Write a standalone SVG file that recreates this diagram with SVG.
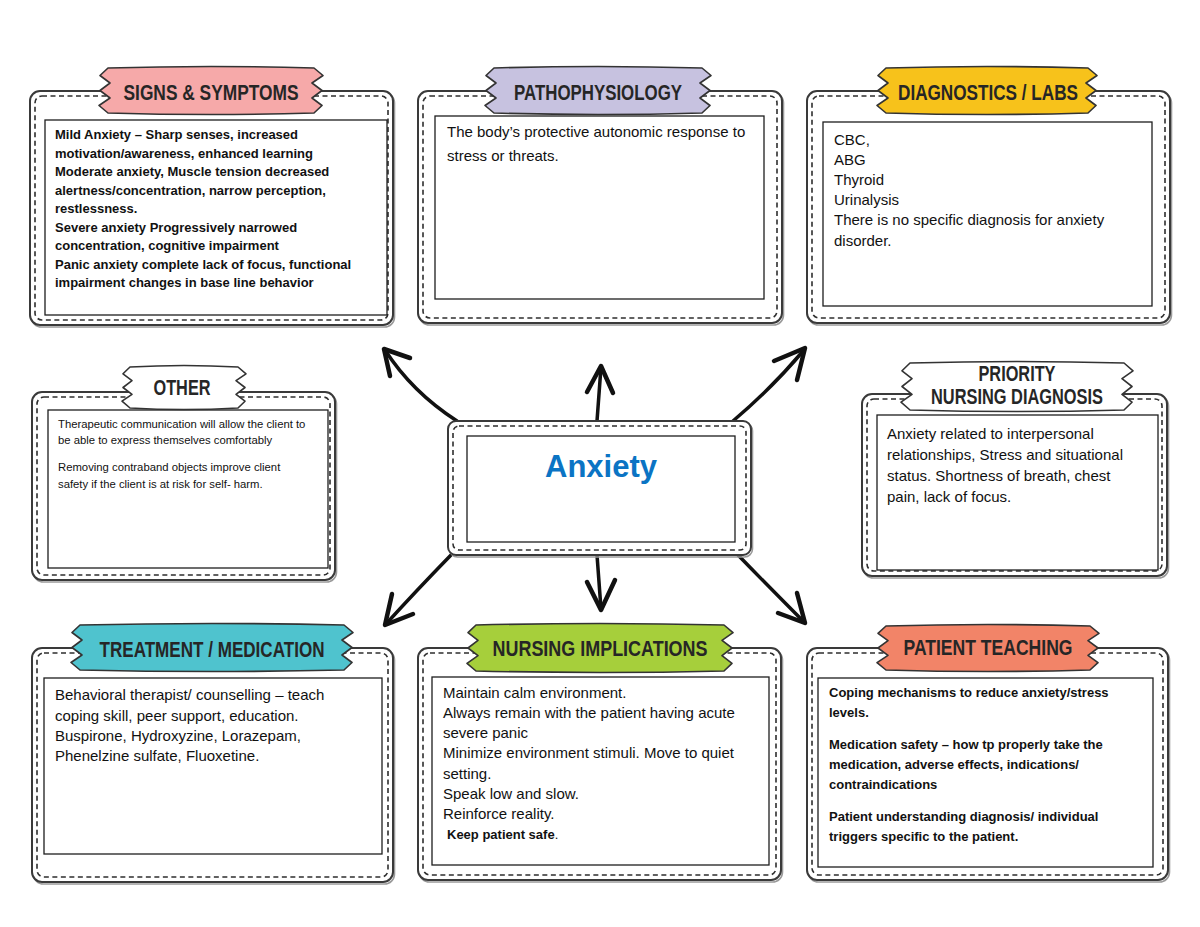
<svg xmlns="http://www.w3.org/2000/svg" width="1200" height="927" viewBox="0 0 1200 927">
<style>
.bg{fill:#fff}
.frame{fill:#fff;stroke:#3a3a3a;stroke-width:2}
.shadow{fill:none;stroke:#9a9a9a;stroke-width:1.6}
.dash{fill:none;stroke:#2e2e2e;stroke-width:1.6;stroke-dasharray:5 3.5}
.inner{fill:#fff;stroke:#1e1e1e;stroke-width:1.3}
.banner{stroke:#333;stroke-width:1.6;stroke-linejoin:round}
.btxt{font-family:"Liberation Sans",Arial,sans-serif;font-weight:bold;font-size:22px;fill:#262626;text-anchor:middle}
.body{font-family:"Liberation Sans",Arial,sans-serif;font-size:15px;fill:#111}
.bold{font-weight:bold;font-size:13px}
.small{font-size:11.3px}
.arrow{fill:none;stroke:#111;stroke-width:3.5;stroke-linecap:round;stroke-linejoin:round}
.head{fill:none;stroke:#111;stroke-width:4.5;stroke-linecap:round;stroke-linejoin:round}
.title{font-family:"Liberation Sans",Arial,sans-serif;font-weight:bold;font-size:31px;fill:#0b74c4;text-anchor:middle}
</style>
<rect class="bg" x="0" y="0" width="1200" height="927"/>

<g id="connectors">
  <path class="arrow" d="M457,421 Q412,392 385,350"/>
  <polyline class="head" points="410,358 384,349 390,376"/>
  <path class="arrow" d="M597,421 L601,367"/>
  <polyline class="head" points="587,392 601,366 613,393"/>
  <path class="arrow" d="M733,421 Q772,388 804,350"/>
  <polyline class="head" points="774,361 805,348 797,380"/>
  <path class="arrow" d="M451,555 Q415,592 386,624"/>
  <polyline class="head" points="392,594 385,625 413,614"/>
  <path class="arrow" d="M597,555 L601,609"/>
  <polyline class="head" points="587,582 601,610 615,580"/>
  <path class="arrow" d="M738,555 Q772,590 804,622"/>
  <polyline class="head" points="797,593 805,623 778,613"/>
</g>

<g id="signs-symptoms">
  <rect class="shadow" x="31.5" y="93" width="363" height="234" rx="10"/>
  <rect class="frame" x="30" y="91" width="363" height="234" rx="10"/>
  <rect class="dash" x="35" y="96" width="353" height="224" rx="7"/>
  <rect class="inner" x="45" y="120" width="342" height="195"/>
  <path class="banner" fill="#f6a9a9" d="M108,68 q103,-3 206,0 l9,7.5 l-11,7.5 l10,7.5 l-10,7.5 l10,7.5 l-8,7.5 q-103,3 -206,0 l-9,-7.5 l11,-7.5 l-10,-7.5 l10,-7.5 l-10,-7.5 l8,-7.5 z"/>
  <text class="btxt" x="211" y="100" textLength="175" lengthAdjust="spacingAndGlyphs">SIGNS &amp; SYMPTOMS</text>
  <text class="body bold">
    <tspan x="55" y="139">Mild Anxiety – Sharp senses, increased</tspan>
    <tspan x="55" y="158">motivation/awareness, enhanced learning</tspan>
    <tspan x="55" y="176">Moderate anxiety, Muscle tension decreased</tspan>
    <tspan x="55" y="195">alertness/concentration, narrow perception,</tspan>
    <tspan x="55" y="213">restlessness.</tspan>
    <tspan x="55" y="232">Severe anxiety Progressively narrowed</tspan>
    <tspan x="55" y="250">concentration, cognitive impairment</tspan>
    <tspan x="55" y="269">Panic anxiety complete lack of focus, functional</tspan>
    <tspan x="55" y="287">impairment changes in base line behavior</tspan>
  </text>
</g>

<g id="pathophysiology">
  <rect class="shadow" x="419.5" y="93" width="364" height="232" rx="10"/>
  <rect class="frame" x="418" y="91" width="364" height="232" rx="10"/>
  <rect class="dash" x="423" y="96" width="354" height="222" rx="7"/>
  <rect class="inner" x="435" y="116" width="329" height="183"/>
  <path class="banner" fill="#c7c2e0" d="M494,68 q104,-3 208,0 l9,7.5 l-11,7.5 l10,7.5 l-10,7.5 l10,7.5 l-8,7.5 q-104,3 -208,0 l-9,-7.5 l11,-7.5 l-10,-7.5 l10,-7.5 l-10,-7.5 l8,-7.5 z"/>
  <text class="btxt" x="598" y="100" textLength="168" lengthAdjust="spacingAndGlyphs">PATHOPHYSIOLOGY</text>
  <text class="body">
    <tspan x="447" y="137">The body’s protective autonomic response to</tspan>
    <tspan x="447" y="161">stress or threats.</tspan>
  </text>
</g>

<g id="diagnostics-labs">
  <rect class="shadow" x="808.5" y="93" width="363" height="232" rx="10"/>
  <rect class="frame" x="807" y="91" width="363" height="232" rx="10"/>
  <rect class="dash" x="812" y="96" width="353" height="222" rx="7"/>
  <rect class="inner" x="823" y="122" width="329" height="184"/>
  <path class="banner" fill="#f7c21b" d="M886,68 q101,-3 202,0 l9,7.5 l-11,7.5 l10,7.5 l-10,7.5 l10,7.5 l-8,7.5 q-101,3 -202,0 l-9,-7.5 l11,-7.5 l-10,-7.5 l10,-7.5 l-10,-7.5 l8,-7.5 z"/>
  <text class="btxt" x="988" y="100" textLength="180" lengthAdjust="spacingAndGlyphs">DIAGNOSTICS / LABS</text>
  <text class="body">
    <tspan x="834" y="145">CBC,</tspan>
    <tspan x="834" y="165">ABG</tspan>
    <tspan x="834" y="185">Thyroid</tspan>
    <tspan x="834" y="205">Urinalysis</tspan>
    <tspan x="834" y="225">There is no specific diagnosis for anxiety</tspan>
    <tspan x="834" y="246">disorder.</tspan>
  </text>
</g>

<g id="other">
  <rect class="shadow" x="33.5" y="394" width="303" height="188" rx="10"/>
  <rect class="frame" x="32" y="392" width="303" height="188" rx="10"/>
  <rect class="dash" x="37" y="397" width="293" height="178" rx="7"/>
  <rect class="inner" x="48" y="410" width="280" height="158"/>
  <path class="banner" fill="#fff" d="M130,367 q54,-3 108,0 l8,6.8 l-10,6.8 l9,6.9 l-9,6.8 l9,6.9 l-7,6.8 q-54,3 -108,0 l-8,-6.8 l10,-6.8 l-9,-6.9 l9,-6.8 l-9,-6.9 l7,-6.8 z"/>
  <text class="btxt" x="182" y="395" textLength="57" lengthAdjust="spacingAndGlyphs">OTHER</text>
  <text class="body small">
    <tspan x="58" y="428">Therapeutic communication will allow the client to</tspan>
    <tspan x="58" y="444">be able to express themselves comfortably</tspan>
    <tspan x="58" y="471">Removing contraband objects improve client</tspan>
    <tspan x="58" y="488">safety if the client is at risk for self- harm.</tspan>
  </text>
</g>

<g id="anxiety">
  <rect class="shadow" x="449.5" y="423" width="303" height="134" rx="8"/>
  <rect class="frame" x="448" y="421" width="303" height="134" rx="8"/>
  <rect class="dash" x="453" y="426" width="293" height="124" rx="6"/>
  <rect class="inner" x="467" y="436" width="268" height="106"/>
  <text class="title" x="601" y="477">Anxiety</text>
</g>

<g id="priority-nursing-diagnosis">
  <rect class="shadow" x="863.5" y="396" width="305" height="182" rx="10"/>
  <rect class="frame" x="862" y="394" width="305" height="182" rx="10"/>
  <rect class="dash" x="867" y="399" width="295" height="172" rx="7"/>
  <rect class="inner" x="877" y="415" width="281" height="155"/>
  <path class="banner" fill="#fff" d="M910,363 q107,-3 214,0 l9,7.8 l-11,7.9 l10,7.8 l-10,7.9 l10,7.8 l-8,7.8 q-107,3 -214,0 l-9,-7.8 l11,-7.8 l-10,-7.9 l10,-7.8 l-10,-7.9 l8,-7.8 z"/>
  <text class="btxt" font-size="16"><tspan x="1017" y="381" textLength="77" lengthAdjust="spacingAndGlyphs">PRIORITY</tspan><tspan x="1017" y="404" textLength="172" lengthAdjust="spacingAndGlyphs">NURSING DIAGNOSIS</tspan></text>
  <text class="body">
    <tspan x="887" y="439">Anxiety related to interpersonal</tspan>
    <tspan x="887" y="460">relationships, Stress and situational</tspan>
    <tspan x="887" y="481">status. Shortness of breath, chest</tspan>
    <tspan x="887" y="502">pain, lack of focus.</tspan>
  </text>
</g>

<g id="treatment-medication">
  <rect class="shadow" x="33.5" y="650" width="361" height="234" rx="10"/>
  <rect class="frame" x="32" y="648" width="361" height="234" rx="10"/>
  <rect class="dash" x="37" y="653" width="351" height="224" rx="7"/>
  <rect class="inner" x="44" y="678" width="338" height="176"/>
  <path class="banner" fill="#4fc3ce" d="M80,625 q132,-3 264,0 l9,7.5 l-11,7.5 l10,7.5 l-10,7.5 l10,7.5 l-8,7.5 q-132,3 -264,0 l-9,-7.5 l11,-7.5 l-10,-7.5 l10,-7.5 l-10,-7.5 l8,-7.5 z"/>
  <text class="btxt" x="212" y="657" textLength="225" lengthAdjust="spacingAndGlyphs">TREATMENT / MEDICATION</text>
  <text class="body">
    <tspan x="55" y="700">Behavioral therapist/ counselling – teach</tspan>
    <tspan x="55" y="721">coping skill, peer support, education.</tspan>
    <tspan x="55" y="741">Buspirone, Hydroxyzine, Lorazepam,</tspan>
    <tspan x="55" y="761">Phenelzine sulfate, Fluoxetine.</tspan>
  </text>
</g>

<g id="nursing-implications">
  <rect class="shadow" x="419.5" y="650" width="363" height="232" rx="10"/>
  <rect class="frame" x="418" y="648" width="363" height="232" rx="10"/>
  <rect class="dash" x="423" y="653" width="353" height="222" rx="7"/>
  <rect class="inner" x="432" y="677" width="337" height="188"/>
  <path class="banner" fill="#a6cf3b" d="M476,625 q124,-3 248,0 l9,7.7 l-11,7.6 l10,7.7 l-10,7.7 l10,7.6 l-8,7.7 q-124,3 -248,0 l-9,-7.7 l11,-7.6 l-10,-7.7 l10,-7.7 l-10,-7.6 l8,-7.7 z"/>
  <text class="btxt" x="600" y="656" textLength="215" lengthAdjust="spacingAndGlyphs">NURSING IMPLICATIONS</text>
  <text class="body">
    <tspan x="443" y="698">Maintain calm environment.</tspan>
    <tspan x="443" y="718">Always remain with the patient having acute</tspan>
    <tspan x="443" y="738">severe panic</tspan>
    <tspan x="443" y="758">Minimize environment stimuli. Move to quiet</tspan>
    <tspan x="443" y="779">setting.</tspan>
    <tspan x="443" y="799">Speak low and slow.</tspan>
    <tspan x="443" y="819">Reinforce reality.</tspan>
  </text>
  <text class="body" x="447" y="839"><tspan class="bold">Keep patient safe</tspan><tspan font-size="13">.</tspan></text>
</g>

<g id="patient-teaching">
  <rect class="shadow" x="808.5" y="650" width="361" height="232" rx="10"/>
  <rect class="frame" x="807" y="648" width="361" height="232" rx="10"/>
  <rect class="dash" x="812" y="653" width="351" height="222" rx="7"/>
  <rect class="inner" x="818" y="678" width="335" height="189"/>
  <path class="banner" fill="#f28468" d="M886,626 q102,-3 204,0 l9,7.3 l-11,7.4 l10,7.3 l-10,7.3 l10,7.4 l-8,7.3 q-102,3 -204,0 l-9,-7.3 l11,-7.4 l-10,-7.3 l10,-7.3 l-10,-7.4 l8,-7.3 z"/>
  <text class="btxt" x="988" y="655" textLength="169" lengthAdjust="spacingAndGlyphs">PATIENT TEACHING</text>
  <text class="body bold">
    <tspan x="829" y="697">Coping mechanisms to reduce anxiety/stress</tspan>
    <tspan x="829" y="717">levels.</tspan>
    <tspan x="829" y="749">Medication safety – how tp properly take the</tspan>
    <tspan x="829" y="769">medication, adverse effects, indications/</tspan>
    <tspan x="829" y="789">contraindications</tspan>
    <tspan x="829" y="821">Patient understanding diagnosis/ individual</tspan>
    <tspan x="829" y="841">triggers specific to the patient.</tspan>
  </text>
</g>
</svg>
